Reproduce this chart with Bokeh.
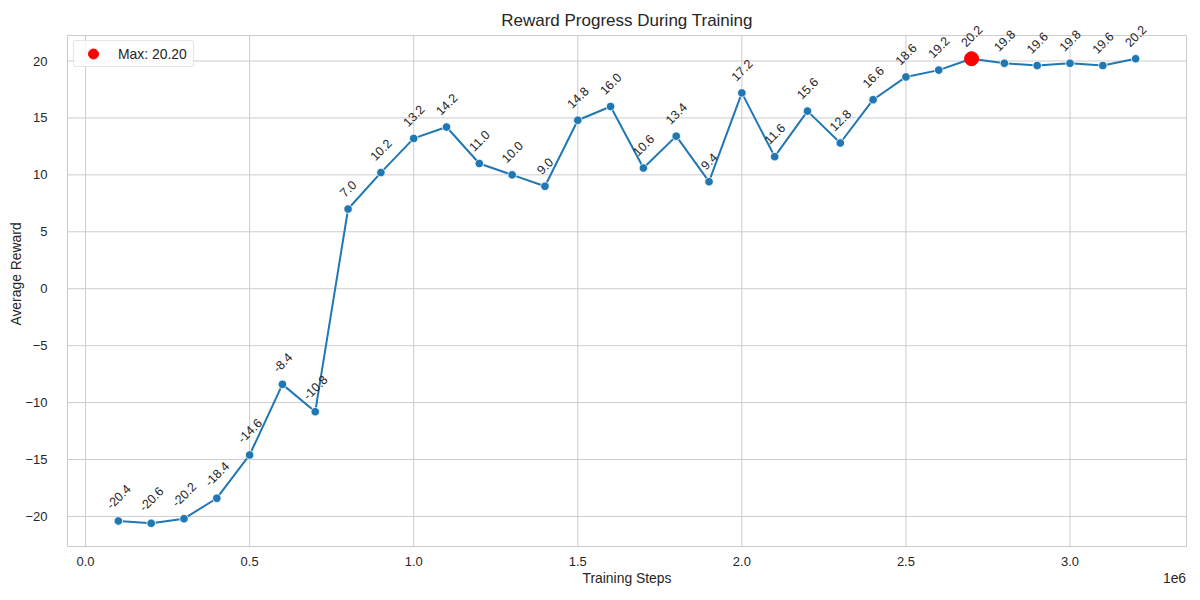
import numpy as np
from bokeh.plotting import figure
from bokeh.models import (ColumnDataSource, FixedTicker, CustomJSTickFormatter, Label,
                          LabelSet, LinearAxis, Range1d, Title, Legend)
from bokeh.core.properties import value
from bokeh.embed import file_html
from bokeh.resources import INLINE

# ---- data ----
steps = [100000, 200000, 300000, 400000, 500000, 600000, 700000, 800000,
         900000, 1000000, 1100000, 1200000, 1300000, 1400000, 1500000, 1600000,
         1700000, 1800000, 1900000, 2000000, 2100000, 2200000, 2300000, 2400000,
         2500000, 2600000, 2700000, 2800000, 2900000, 3000000, 3100000, 3200000]
rewards = [-20.4, -20.6, -20.2, -18.4, -14.6, -8.4, -10.8, 7.0,
           10.2, 13.2, 14.2, 11.0, 10.0, 9.0, 14.8, 16.0,
           10.6, 13.4, 9.4, 17.2, 11.6, 15.6, 12.8, 16.6,
           18.6, 19.2, 20.2, 19.8, 19.6, 19.8, 19.6, 20.2]
x_ticks = [0, 500000, 1000000, 1500000, 2000000, 2500000, 3000000]
y_ticks = [-20, -15, -10, -5, 0, 5, 10, 15, 20]

title = "Reward Progress During Training"
x_label = "Training Steps"
y_label = "Average Reward"
offset_text = "1e6"

FONT = "Liberation Sans"
TXT = "#262626"
GRID = "#cccccc"
BLUE = "#1f77b4"

imax = int(np.argmax(rewards))
max_step = steps[imax]
max_val = rewards[imax]

# ---- layout constants (pixels) ----
W, H = 1200, 600
AX_L, AX_R, AX_T, AX_B = 67, 1186, 35, 546      # visible axes box
FR_L, FR_R, FR_B = AX_L - 1, AX_R + 1, AX_B + 1  # plot frame (top extends to 0)

# visible data window (matplotlib-like 5% margins)
xspan = max(steps) - min(steps)
yspan = max(rewards) - min(rewards)
x0v, x1v = min(steps) - 0.05 * xspan, max(steps) + 0.05 * xspan
y0v, y1v = min(rewards) - 0.05 * yspan, max(rewards) + 0.05 * yspan
ppx = (AX_R - AX_L) / (x1v - x0v)
ppy = (AX_B - AX_T) / (y1v - y0v)

x_range = Range1d(x0v - 1 / ppx, x1v + 1 / ppx)
y_range = Range1d(y0v - 1 / ppy, y1v + AX_T / ppy)

LABEL_FS = 12.5
cw = {".": 0.278, "-": 0.333}
labels = [f"{v:.1f}" for v in rewards]
offsets = []
for s in labels:
    w = sum(cw.get(c, 0.556) for c in s) * LABEL_FS
    h = 0.72 * LABEL_FS
    offsets.append(11 + (w + h) / 2.83)

src = ColumnDataSource(dict(x=steps, y=rewards, lab=labels, yo=offsets))

p = figure(width=W, height=H, output_backend="svg", toolbar_location=None,
           x_range=x_range, y_range=y_range,
           min_border_left=FR_L, min_border_right=W - FR_R,
           min_border_top=0, min_border_bottom=H - FR_B)

p.background_fill_color = "white"
p.border_fill_color = "white"
p.outline_line_color = None
p.xgrid.visible = False
p.ygrid.visible = False

# grid + axes box drawn over the visible window only
p.segment(x0=x_ticks, y0=[y0v] * len(x_ticks), x1=x_ticks, y1=[y1v] * len(x_ticks),
          line_color=GRID, line_width=1, level="underlay")
p.segment(x0=[x0v] * len(y_ticks), y0=y_ticks, x1=[x1v] * len(y_ticks), y1=y_ticks,
          line_color=GRID, line_width=1, level="underlay")
p.quad(left=[x0v], right=[x1v], bottom=[y0v], top=[y1v], fill_color=None,
       line_color=GRID, line_width=1, level="underlay")

# axes
xa = p.xaxis[0]
ya = p.yaxis[0]
for ax in (xa, ya):
    ax.axis_line_color = None
    ax.major_tick_line_color = None
    ax.minor_tick_line_color = None
    ax.major_label_text_font = FONT
    ax.major_label_text_font_size = "13px"
    ax.major_label_text_color = TXT
xa.ticker = FixedTicker(ticks=x_ticks)
ya.ticker = FixedTicker(ticks=y_ticks)
xa.formatter = CustomJSTickFormatter(code="return (tick/1e6).toFixed(1);")
ya.formatter = CustomJSTickFormatter(
    code="return tick < 0 ? '\u2212' + Math.abs(tick) : String(tick);")
xa.major_label_standoff = 3
ya.major_label_standoff = 13

# second row under the x axis: axis label (centred) and offset text (right)
row_ticks = [(x0v + x1v) / 2, x1v - 12 / ppx]
xa2 = LinearAxis(ticker=FixedTicker(ticks=row_ticks),
                 formatter=CustomJSTickFormatter(args=dict(t=[x_label, offset_text]),
                                                 code="return t[index];"))
xa2.axis_line_color = None
xa2.major_tick_line_color = None
xa2.minor_tick_line_color = None
xa2.major_label_text_font = FONT
xa2.major_label_text_font_size = "13.9px"
xa2.major_label_text_color = TXT
xa2.major_label_standoff = -5
p.add_layout(xa2, "below")

# y axis label
yt = Title(text=y_label, align="center", offset=-25, standoff=-2,
           text_font=FONT, text_font_size="13.9px", text_font_style="normal",
           text_color=TXT)
p.add_layout(yt, "left")

# title inside the extended frame
p.add_layout(Label(x=(AX_L + AX_R) / 2 - FR_L, y=FR_B - 20, x_units="screen", y_units="screen",
                   text=title, text_align="center", text_baseline="middle",
                   text_font=FONT, text_font_size="17px", text_color=TXT))

# line + markers
p.line("x", "y", source=src, line_color=BLUE, line_width=2)
p.scatter("x", "y", source=src, size=8.5, fill_color=BLUE,
          line_color="white", line_width=0.8)
mx = p.scatter([max_step], [max_val], size=14, fill_color="red", line_color="red")

# value labels
p.add_layout(LabelSet(x="x", y="y", text="lab", source=src, angle=np.pi / 4,
                      y_offset="yo", text_align="center", text_baseline="middle",
                      text_font_size=f"{LABEL_FS}px", text_color=TXT,
                      text_font=value(FONT)))

# legend
lg = Legend(items=[(f"Max: {max_val:.2f}", [mx])], location=(AX_L + 6 - FR_L, FR_B - 67))
lg.margin = 0
lg.padding = 0
lg.spacing = 0
lg.glyph_width = 38
lg.glyph_height = 25
lg.label_height = 25
lg.label_width = 75
lg.label_standoff = 6
lg.label_text_font = FONT
lg.label_text_font_size = "13.9px"
lg.label_text_color = TXT
lg.border_line_color = GRID
lg.border_line_width = 1
lg.background_fill_alpha = 0.8
if "border_radius" in Legend.properties():
    lg.border_radius = 3
p.add_layout(lg, "center")

open("out.html", "w").write(file_html(p, INLINE))
